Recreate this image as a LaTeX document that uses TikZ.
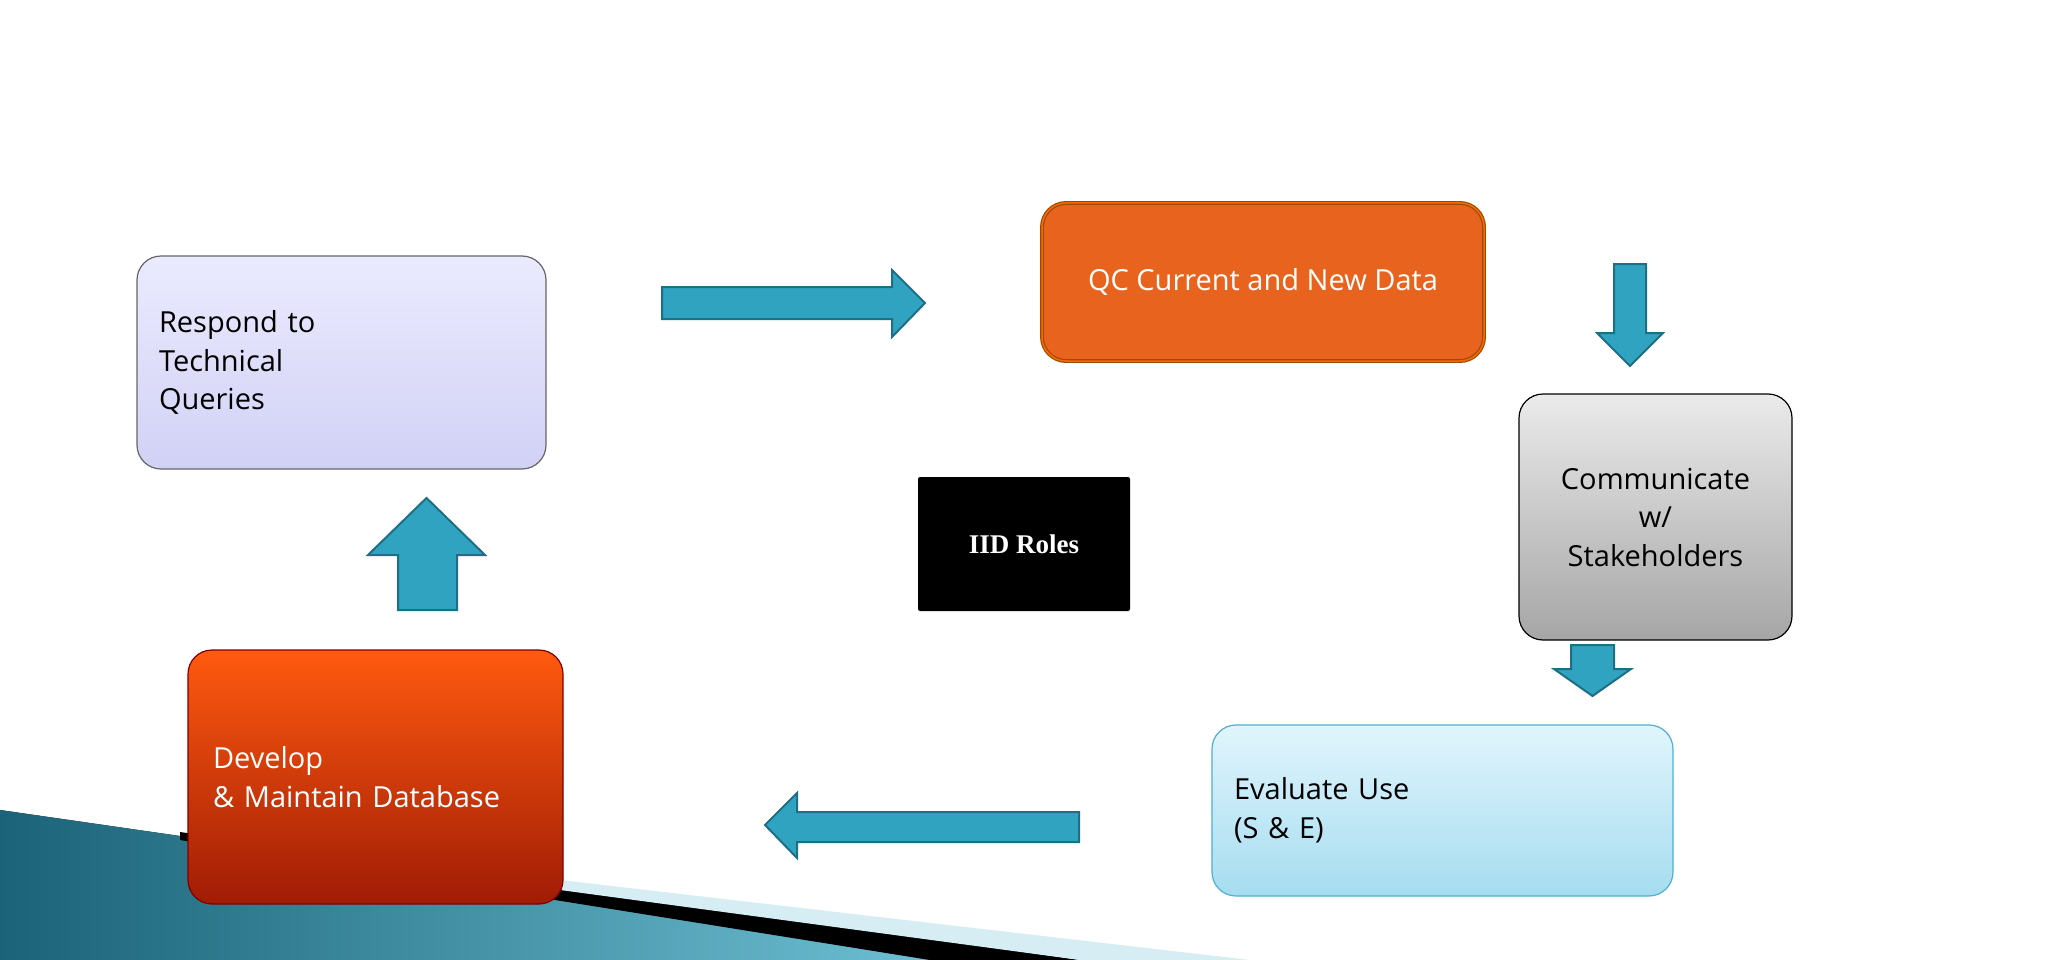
\documentclass[tikz,border=0pt]{standalone}
\usepackage{fontspec}
\setmainfont{Open Sans}
\newfontfamily\serifbf{Liberation Serif}
\begin{document}
\begin{tikzpicture}[x=1pt,y=-1pt,
  box/.style={rounded corners=24pt,line width=1.2pt,font=\fontsize{29}{38.5}\selectfont,inner sep=0pt},
  arr/.style={fill=arrfill,draw=arrline,line width=2pt,line join=miter}]
\definecolor{arrfill}{HTML}{2FA3C0}
\definecolor{arrline}{HTML}{1E6E85}
\useasboundingbox (0,0) rectangle (2048,960);
\fill[white] (0,0) rectangle (2048,960);
% background swoosh
\fill[left color=arrline!90!black,right color=arrfill!70!white] (0,810) -- (180,836) -- (930,960) -- (0,960) -- cycle;
\fill[black] (180,832) -- (1080,960) -- (930,960) -- (180,840) -- cycle;
\fill[arrfill!20!white] (560,880) -- (1250,960) -- (1080,960) -- (560,890) -- cycle;
% boxes
\node[box,draw=black!60,top color=black!3!blue!8!white,bottom color=black!20!blue!18!white,
  minimum width=409pt,minimum height=213pt,text width=365pt,align=left] (resp) at (341.5,362.5)
  {Respond to\\Technical\\Queries};
\node[box,draw=orange!60!black,double=orange!80!red,double distance=1.5pt,fill={rgb,255:red,232;green,100;blue,30},text=white,
  minimum width=442pt,minimum height=158pt,align=center] (qc) at (1263,282) {QC Current and New Data};
\node[box,draw=black,top color=black!8,bottom color=black!35,
  minimum width=273pt,minimum height=246pt,align=center] (comm) at (1655.5,517) {Communicate\\w/\\Stakeholders};
\node[box,draw={rgb,255:red,79;green,176;blue,207},top color={rgb,255:red,224;green,245;blue,252},bottom color={rgb,255:red,166;green,220;blue,240},
  minimum width=461pt,minimum height=171pt,text width=417pt,align=left] (eval) at (1442.5,810.5) {Evaluate Use\\(S \& E)};
\node[box,draw=red!50!black,top color={rgb,255:red,255;green,90;blue,15},bottom color={rgb,255:red,160;green,28;blue,5},text=white,
  minimum width=375pt,minimum height=254pt,text width=325pt,align=left] (dev) at (375.5,777) {Develop\\\& Maintain Database};
\node[fill=black,text=white,font=\serifbf\bfseries\fontsize{27}{30}\selectfont,minimum width=212pt,minimum height=134pt,rounded corners=2pt] (iid) at (1024,544) {IID Roles};
% arrows
\draw[arr] (662,287) -- (892,287) -- (892,270) -- (925,303) -- (892,337) -- (892,319) -- (662,319) -- cycle;
\draw[arr] (1614,264) -- (1646,264) -- (1646,333) -- (1663,333) -- (1630,366) -- (1597,333) -- (1614,333) -- cycle;
\draw[arr] (1571,645) -- (1614,645) -- (1614,669) -- (1631,669) -- (1592.5,696) -- (1554,669) -- (1571,669) -- cycle;
\draw[arr] (1079,812) -- (797,812) -- (797,793) -- (765,825) -- (797,858) -- (797,842) -- (1079,842) -- cycle;
\draw[arr] (398,610) -- (457,610) -- (457,555) -- (485,555) -- (426.5,498) -- (368,555) -- (398,555) -- cycle;
\end{tikzpicture}
\end{document}
